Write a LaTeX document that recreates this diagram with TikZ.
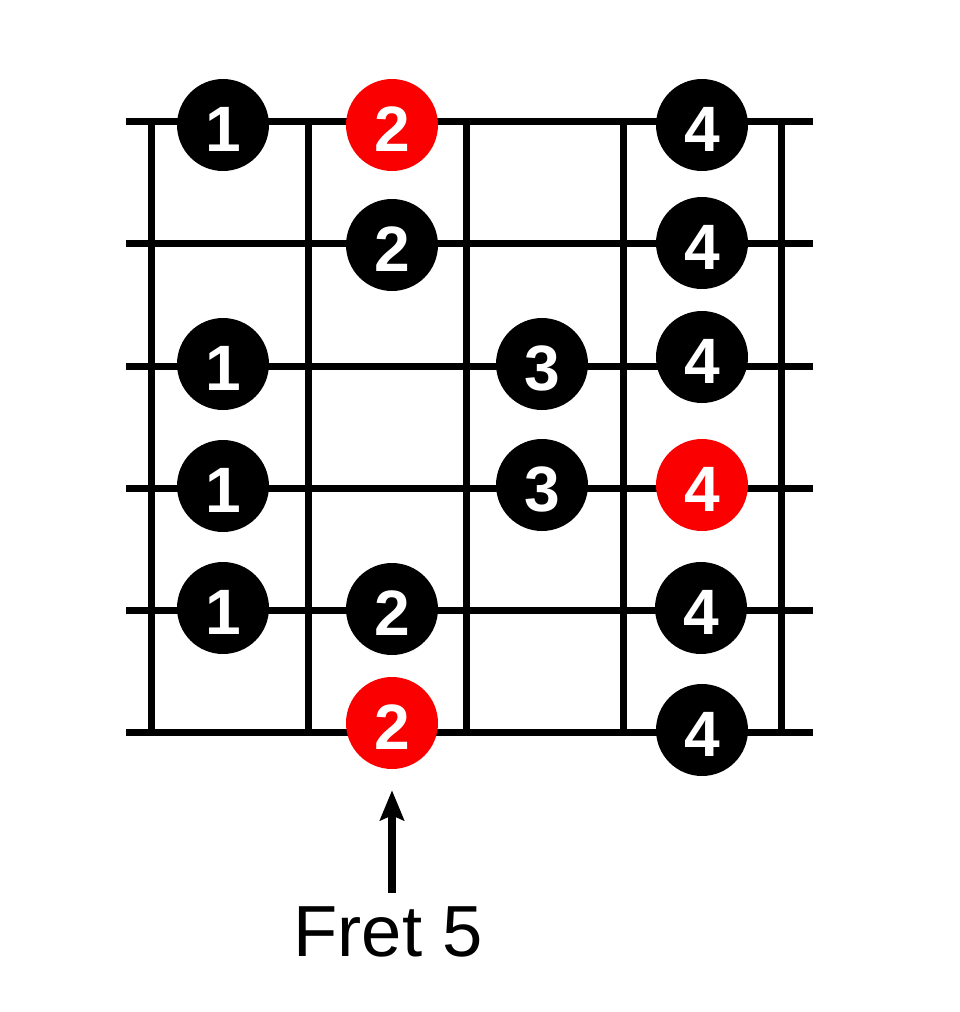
\documentclass[tikz,border=0pt]{standalone}
\usepackage{fontspec}
\setmainfont{Liberation Sans}
\usepackage{tikz}
\usetikzlibrary{arrows.meta,positioning}
\usepackage{xcolor}
\definecolor{rootred}{RGB}{250,0,0}
\tikzstyle{guitarstring} = [line width=0.14cm, color=black]
\tikzstyle{fretwire} = [line width=0.14cm, color=black]
\tikzstyle{fingerdot} = [circle, fill=black, text=white, minimum size=1.84cm, inner sep=0pt, text height=1.06cm, text depth=0pt, font=\fontsize{36.5}{37}\selectfont\bfseries]
\tikzstyle{rootdot} = [fingerdot, fill=rootred]
\tikzstyle{arrow} = [line width=0.16cm, -{Stealth[length=0.6cm,width=0.48cm,inset=0.1cm]}]
\begin{document}
\begin{tikzpicture}[x=0.02cm,y=-0.02cm]
\useasboundingbox (0,0) rectangle (960,1012);

% Strings
\draw[guitarstring] (126,121) -- (813,121);
\draw[guitarstring] (126,243) -- (813,243);
\draw[guitarstring] (126,366) -- (813,366);
\draw[guitarstring] (126,488) -- (813,488);
\draw[guitarstring] (126,610) -- (813,610);
\draw[guitarstring] (126,732) -- (813,732);

% Frets
\draw[fretwire] (151,121) -- (151,732);
\draw[fretwire] (308,121) -- (308,732);
\draw[fretwire] (466,121) -- (466,732);
\draw[fretwire] (623,121) -- (623,732);
\draw[fretwire] (781,121) -- (781,732);

% Fingers, string by string
\node[fingerdot] (s1a) at (223,125) {1};
\node[rootdot] (s1b) at (392,125) {2};
\node[fingerdot] (s1d) at (702,125) {4};

\node[fingerdot] (s2b) at (392,245) {2};
\node[fingerdot] (s2d) at (702,243) {4};

\node[fingerdot] (s3a) at (223,364) {1};
\node[fingerdot] (s3c) at (542,364) {3};
\node[fingerdot] (s3d) at (702,357) {4};

\node[fingerdot] (s4a) at (223,486) {1};
\node[fingerdot] (s4c) at (542,485) {3};
\node[rootdot] (s4d) at (702,485) {4};

\node[fingerdot] (s5a) at (223,608) {1};
\node[fingerdot] (s5b) at (392,609) {2};
\node[fingerdot] (s5d) at (701,608) {4};

\node[rootdot] (s6b) at (392,723) {2};
\node[fingerdot] (s6d) at (702,730) {4};

% Fret marker
\node[anchor=base, inner sep=0pt, font=\fontsize{41.2}{42}\selectfont] (fretlabel) at (388,956) {Fret 5};
\draw[arrow, shorten <=0.26cm, shorten >=0.42cm] (fretlabel.north -| s6b) -- (s6b.south);
\end{tikzpicture}
\end{document}
